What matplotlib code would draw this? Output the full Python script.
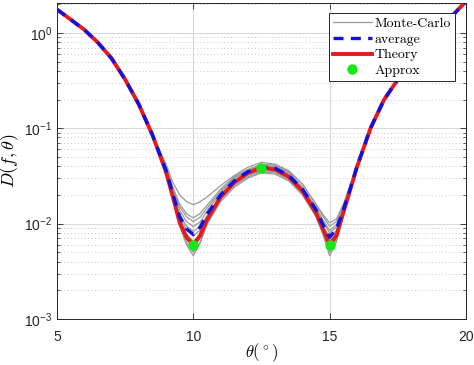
#!/usr/bin/env python3
"""Beam response D(f, theta): Monte-Carlo runs, their average, theory and approximation."""

import matplotlib
matplotlib.use("Agg")
import matplotlib.pyplot as plt
from matplotlib.ticker import LogLocator, NullFormatter

# angle grid (deg)
theta_left = [5, 5.5, 6, 6.5, 7, 7.5, 8, 8.5]
theta_mid = [9, 9.25, 9.5, 9.75, 10, 10.25, 10.5, 11, 11.5, 12, 12.5, 13, 13.5,
             14, 14.5, 14.75, 15, 15.25, 15.5, 15.75, 16]
theta_right = [16.5, 17, 17.5, 18, 18.5, 19, 19.5, 20]

# theory, split in the same three pieces
theory_left = [1.76, 1.38, 1.08, 0.79, 0.54, 0.324, 0.178, 0.085]
theory_mid = [0.0347, 0.019, 0.0102, 0.0072, 0.006, 0.0075, 0.011, 0.019, 0.027, 0.034,
              0.0386, 0.037, 0.031, 0.022, 0.013, 0.0088, 0.006, 0.0075, 0.013, 0.0224, 0.039]
theory_right = [0.10, 0.20, 0.324, 0.49, 0.72, 1.05, 1.51, 2.14]

# average of the runs (only differs from theory in the middle part)
average_mid = [0.036, 0.0205, 0.0118, 0.0088, 0.0077, 0.0092, 0.0125, 0.020, 0.028, 0.035,
               0.039, 0.038, 0.032, 0.023, 0.014, 0.0098, 0.0072, 0.0088, 0.0138, 0.023, 0.0395]

# Monte-Carlo runs, middle part
mc_runs_mid = [
    [0.042, 0.027, 0.020, 0.017, 0.0158, 0.017, 0.019, 0.025, 0.032, 0.039, 0.044, 0.042,
     0.036, 0.026, 0.016, 0.012, 0.0094, 0.0105, 0.0155, 0.024, 0.040],
    [0.039, 0.024, 0.016, 0.0127, 0.0115, 0.0128, 0.0155, 0.023, 0.031, 0.037, 0.042, 0.041,
     0.035, 0.026, 0.016, 0.0125, 0.0102, 0.0112, 0.016, 0.0245, 0.040],
    [0.038, 0.023, 0.015, 0.0118, 0.0105, 0.0117, 0.0145, 0.022, 0.030, 0.036, 0.040, 0.039,
     0.033, 0.024, 0.015, 0.011, 0.0085, 0.0097, 0.0145, 0.0235, 0.0395],
    [0.037, 0.022, 0.0138, 0.0105, 0.0093, 0.0104, 0.0135, 0.021, 0.030, 0.036, 0.041, 0.040,
     0.034, 0.024, 0.0145, 0.0105, 0.0080, 0.0092, 0.0142, 0.0232, 0.0395],
    [0.035, 0.0205, 0.0125, 0.0094, 0.0083, 0.0093, 0.012, 0.019, 0.026, 0.032, 0.036, 0.035,
     0.030, 0.021, 0.013, 0.0092, 0.0066, 0.0080, 0.0135, 0.0225, 0.039],
    [0.035, 0.020, 0.0118, 0.0086, 0.0074, 0.0086, 0.0118, 0.020, 0.028, 0.035, 0.039, 0.038,
     0.032, 0.023, 0.0138, 0.0095, 0.0072, 0.0085, 0.0138, 0.0228, 0.039],
    [0.0345, 0.0193, 0.011, 0.0078, 0.0065, 0.0077, 0.0108, 0.018, 0.025, 0.031, 0.035, 0.034,
     0.029, 0.021, 0.0125, 0.0085, 0.0058, 0.0072, 0.0128, 0.022, 0.0385],
    [0.0345, 0.0188, 0.0102, 0.0069, 0.0056, 0.0071, 0.0106, 0.019, 0.027, 0.034, 0.038, 0.037,
     0.031, 0.022, 0.0128, 0.0082, 0.0050, 0.0068, 0.0125, 0.022, 0.0385],
    [0.034, 0.0183, 0.0097, 0.0064, 0.0050, 0.0064, 0.0098, 0.017, 0.024, 0.030, 0.034, 0.033,
     0.028, 0.020, 0.0118, 0.0080, 0.0054, 0.0068, 0.0122, 0.0215, 0.038],
    [0.034, 0.018, 0.0094, 0.006, 0.0046, 0.0062, 0.0098, 0.018, 0.026, 0.033, 0.037, 0.036,
     0.030, 0.021, 0.0120, 0.0078, 0.0046, 0.0064, 0.012, 0.0215, 0.038],
]

# approximation points
approx_theta = [10, 12.5, 15]
approx_vals = [0.006, 0.0386, 0.006]

OUT = "out.png"


def main():
    plt.rcParams["font.family"] = "Liberation Sans"
    plt.rcParams["mathtext.fontset"] = "cm"

    theta = theta_left + theta_mid + theta_right
    theory = theory_left + theory_mid + theory_right
    average = theory_left + average_mid + theory_right

    fig = plt.figure(figsize=(4.74, 3.65), dpi=100)
    ax = fig.add_axes([0.1203, 0.126, 0.8627, 0.866])

    for i, run in enumerate(mc_runs_mid):
        ax.plot(theta, theory_left + run + theory_right, color="0.6", lw=0.9,
                zorder=2, label="Monte-Carlo" if i == 0 else None)
    ax.plot(theta, theory, color="#e41a1c", lw=2.8, zorder=3, label="Theory")
    ax.plot(theta, average, color="#1010e0", lw=2.4, ls=(0, (3, 2.2)), zorder=4,
            label="average")
    ax.plot(approx_theta, approx_vals, "o", color="#19e619", ms=7.5, mec="none",
            zorder=5, label="Approx")

    ax.set_yscale("log")
    ax.set_xlim(5, 20)
    ax.set_ylim(1e-3, 2.06)
    ax.set_xticks([5, 10, 15, 20])
    ax.yaxis.set_major_locator(LogLocator(base=10, numticks=10))
    ax.yaxis.set_minor_locator(LogLocator(base=10, subs=range(2, 10), numticks=20))
    ax.yaxis.set_minor_formatter(NullFormatter())

    ax.grid(True, which="major", color="0.85", lw=0.8, ls="-")
    ax.grid(True, which="minor", axis="y", color="0.78", lw=0.7, ls=(0, (1, 2.5)))
    ax.set_axisbelow(True)

    ax.tick_params(which="both", direction="in", top=True, right=True,
                   labelsize=10, colors="0.15")
    ax.tick_params(which="major", length=4, width=0.6)
    ax.tick_params(which="minor", length=2.5, width=0.5)
    for sp in ax.spines.values():
        sp.set_color("0.15")
        sp.set_linewidth(0.7)
    ax.tick_params(axis="x", pad=8)

    ax.set_xlabel(r"$\theta(^\circ)$", fontsize=12, labelpad=-2)
    ax.set_ylabel(r"$D(f,\theta)$", fontsize=13, labelpad=2)

    handles, labels = ax.get_legend_handles_labels()
    order = ["Monte-Carlo", "average", "Theory", "Approx"]
    hmap = dict(zip(labels, handles))
    leg = ax.legend([hmap[k] for k in order], order, loc="upper right",
                    bbox_to_anchor=(0.973, 0.968), prop={"family": "cmr10", "size": 10},
                    fancybox=False, framealpha=1, edgecolor="0.15",
                    handlelength=2.75, handletextpad=0.2, labelspacing=0.22,
                    borderpad=0.3, borderaxespad=0)
    leg.get_frame().set_linewidth(0.7)

    fig.savefig(OUT, dpi=100)
    print(f"Wrote {OUT}")


if __name__ == "__main__":
    main()
